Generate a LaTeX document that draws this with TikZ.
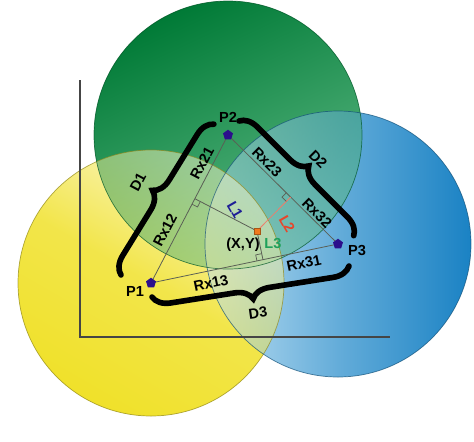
\documentclass[tikz,border=0pt]{standalone}
\usepackage{fontspec}
\setmainfont{Liberation Sans}
\usepackage{tikz}
\usetikzlibrary{calc,decorations.pathreplacing,shapes.geometric}
\definecolor{axis}{HTML}{454545}
\definecolor{side}{HTML}{5A5F55}
\definecolor{ptblue}{HTML}{2B0E8C}
\definecolor{xyorange}{HTML}{F07A1E}
\definecolor{lone}{HTML}{1E1E96}
\definecolor{ltwo}{HTML}{E8452A}
\definecolor{lthree}{HTML}{1FA05A}
\definecolor{gtop}{HTML}{007A36}
\definecolor{gbot}{HTML}{62BC88}
\definecolor{ytop}{HTML}{FBF7CC}
\definecolor{ybot}{HTML}{F0E12A}
\definecolor{bleft}{HTML}{BEE0F3}
\definecolor{bright}{HTML}{1A82C4}
\tikzset{
  sideline/.style={draw=side, line width=0.45pt},
  redline/.style={draw=ltwo!70, line width=0.45pt},
  rmark/.style={draw=side, line width=0.4pt},
  axisline/.style={draw=axis, line width=0.8pt},
  circedge/.style={line width=0.4pt, draw opacity=0.7},
  dbrace/.style={decorate, decoration={brace, amplitude=10pt}, line width=3.2pt, line cap=round},
  pt/.style={regular polygon, regular polygon sides=5, fill=ptblue, inner sep=0pt, minimum size=6pt},
  xydot/.style={rectangle, fill=xyorange, draw=xyorange!70!black, line width=0.3pt, inner sep=0pt, minimum size=3.4pt},
  lbl/.style={text=black, font=\fontsize{8.3}{10}\selectfont\bfseries, inner sep=0pt}
}

\begin{document}
\begin{tikzpicture}[x=0.02cm, y=0.02cm]
  \useasboundingbox (0,-441) rectangle (474,0);
  \def\rad{133}

  \coordinate (P1) at (151,-283);
  \coordinate (P2) at (228,-135);
  \coordinate (P3) at (338,-244);
  \coordinate (XY) at (257,-231);

  % the three circles, opaque first, then mixed
  \shade[top color=ytop, bottom color=ybot, middle color=ybot!80!ytop, shading angle=-30] (P1) circle[radius=\rad];
  \shade[top color=gtop, bottom color=gbot, shading angle=25] (P2) circle[radius=134];
  \shade[left color=bleft, right color=bright, middle color=bright!55!bleft] (P3) circle[radius=\rad];
  \shade[fill opacity=0.5, top color=gtop, bottom color=gbot, shading angle=25] (P2) circle[radius=134];
  \shade[fill opacity=0.5, top color=ytop, bottom color=ybot, middle color=ybot!80!ytop, shading angle=-30] (P1) circle[radius=\rad];
  \draw[circedge, draw=ybot!60!black] (P1) circle[radius=\rad];
  \draw[circedge, draw=gtop!70!black] (P2) circle[radius=134];
  \draw[circedge, draw=bright!60!black] (P3) circle[radius=\rad];

  % axes
  \coordinate (Oy) at (80,-80);
  \coordinate (O) at (80,-337);
  \coordinate (Ox) at (390,-337);
  \draw[axisline] (Oy) -- (O) -- (Ox);

  % triangle and perpendiculars
  \draw[sideline] (P1) -- (P2) -- (P3) -- cycle;
  \coordinate (F1) at ($(P1)!(XY)!(P2)$);
  \coordinate (F2) at ($(P2)!(XY)!(P3)$);
  \coordinate (F3) at ($(P1)!(XY)!(P3)$);
  \draw[sideline] (XY) -- (F1);
  \draw[redline] (XY) -- (F2);
  \draw[sideline] (XY) -- (F3);

  \coordinate (F1a) at ($(F1)!3.5pt!(XY)$);
  \coordinate (F1b) at ($(F1)!3.5pt!(P1)$);
  \draw[rmark] (F1a) -- ($(F1a)+(F1b)-(F1)$) -- (F1b);
  \coordinate (F2a) at ($(F2)!3.5pt!(XY)$);
  \coordinate (F2b) at ($(F2)!3.5pt!(P2)$);
  \draw[rmark] (F2a) -- ($(F2a)+(F2b)-(F2)$) -- (F2b);
  \coordinate (F3a) at ($(F3)!3.5pt!(XY)$);
  \coordinate (F3b) at ($(F3)!3.5pt!(P1)$);
  \draw[rmark] (F3a) -- ($(F3a)+(F3b)-(F3)$) -- (F3b);

  % braces
  \coordinate (D1s) at (121,-275);
  \coordinate (D1e) at (214,-124);
  \coordinate (D2s) at (239,-121);
  \coordinate (D2e) at (354,-236);
  \coordinate (D3s) at (349,-266);
  \coordinate (D3e) at (152,-297);
  \draw[dbrace] (D1s) -- (D1e);
  \draw[dbrace] (D2s) -- (D2e);
  \draw[dbrace] (D3s) -- (D3e);

  % points
  \node[pt] (p1) at (P1) {};
  \node[pt] (p2) at (P2) {};
  \node[pt] (p3) at (P3) {};
  \node[xydot] (xy) at (XY) {};

  % labels
  \node[lbl] (lp1) at (135,-291) {P1};
  \node[lbl] (lp2) at (228,-117) {P2};
  \node[lbl] (lp3) at (357,-250) {P3};
  \node[lbl] (lxy) at (243,-245) {(X,Y)};
  \node[lbl, rotate=62.5] (r12) at (165,-230) {Rx12};
  \node[lbl, rotate=62.5] (r21) at (202,-163) {Rx21};
  \node[lbl, rotate=-44.7] (r23) at (267,-162) {Rx23};
  \node[lbl, rotate=-44.7] (r32) at (317,-213) {Rx32};
  \node[lbl, rotate=11.8] (r13) at (211,-283) {Rx13};
  \node[lbl, rotate=11.8] (r31) at (304,-263) {Rx31};
  \node[lbl, rotate=62] (d1) at (138,-182) {D1};
  \node[lbl, rotate=-45] (d2) at (318,-159) {D2};
  \node[lbl, rotate=8] (d3) at (258,-313) {D3};
  \node[lbl, text=lone, rotate=-60] (l1) at (235,-210) {L1};
  \node[lbl, text=ltwo, rotate=-60] (l2) at (287,-224) {L2};
  \node[lbl, text=lthree] (l3) at (273,-243) {L3};
\end{tikzpicture}
\end{document}
